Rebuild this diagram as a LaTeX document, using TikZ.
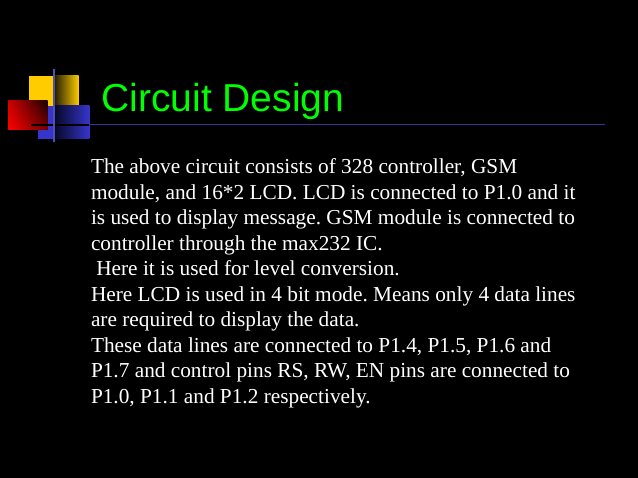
\documentclass[tikz,border=0pt]{standalone}
\usepackage{fontspec}
\usetikzlibrary{shadings}
\setmainfont{Liberation Serif}
\newfontfamily\titlefont{Liberation Sans}
\frenchspacing
\definecolor{titlegreen}{HTML}{00FF00}
\definecolor{logoyellow}{HTML}{FFCC00}
\definecolor{logoyellowdark}{HTML}{2A2200}
\definecolor{logoblue}{HTML}{3535CC}
\definecolor{logobluedark}{HTML}{08082A}
\definecolor{rulecol}{HTML}{33339A}
\definecolor{vlinecol}{HTML}{5050B0}
\tikzset{
  bodyline/.style={anchor=base west, inner sep=0pt, outer sep=0pt, text=white,
    font=\fontsize{21.3}{25.5}\selectfont},
  titletext/.style={anchor=base west, inner sep=0pt, outer sep=0pt, text=titlegreen,
    font=\titlefont\fontsize{39}{46}\selectfont}
}
\begin{document}
\begin{tikzpicture}[x=1pt,y=-1pt]
\useasboundingbox (0,0) rectangle (638,478);
\fill[black] (0,0) rectangle (638,478);
% logo
\fill[logoyellow] (29.3,76) rectangle (55,105.7);
\shade[left color=logoyellowdark, right color=logoyellow] (55,76) rectangle (78.7,105.7);
\shade[lower left=red, upper left=red!80!black, lower right=red!45!black, upper right=red!10!black] (8.3,100.7) rectangle (47.7,130);
\fill[logoblue] (47.7,105.7) rectangle (55,139);
\fill[logoblue] (37.7,130) rectangle (47.7,139);
\shade[left color=logobluedark, right color=logoblue] (55,105.7) rectangle (89.3,139);
\draw[black, line width=2.5pt] (31,125) -- (89.3,125);
\draw[rulecol, line width=1.6pt] (89.3,124.7) -- (605,124.7);
\draw[vlinecol, line width=2pt] (54,69) -- (54,142);
% title
\node[titletext] (title) at (101.5,111.7) {Circuit Design};
% body
\node[bodyline] (l1) at (91,173.7) {The above circuit consists of 328 controller, GSM};
\node[bodyline] (l2) at (91,199.2) {module, and 16*2 LCD. LCD is connected to P1.0 and it};
\node[bodyline] (l3) at (91,224.7) {is used to display message. GSM module is connected to};
\node[bodyline] (l4) at (91,250.2) {controller through the max232 IC.};
\node[bodyline] (l5) at (96.3,275.7) {Here it is used for level conversion.};
\node[bodyline] (l6) at (91,301.2) {Here LCD is used in 4 bit mode. Means only 4 data lines};
\node[bodyline] (l7) at (91,326.7) {are required to display the data.};
\node[bodyline] (l8) at (91,352.2) {These data lines are connected to P1.4, P1.5, P1.6 and};
\node[bodyline] (l9) at (91,377.7) {P1.7 and control pins RS, RW, EN pins are connected to};
\node[bodyline] (l10) at (91,403.2) {P1.0, P1.1 and P1.2 respectively.};
\end{tikzpicture}
\end{document}
